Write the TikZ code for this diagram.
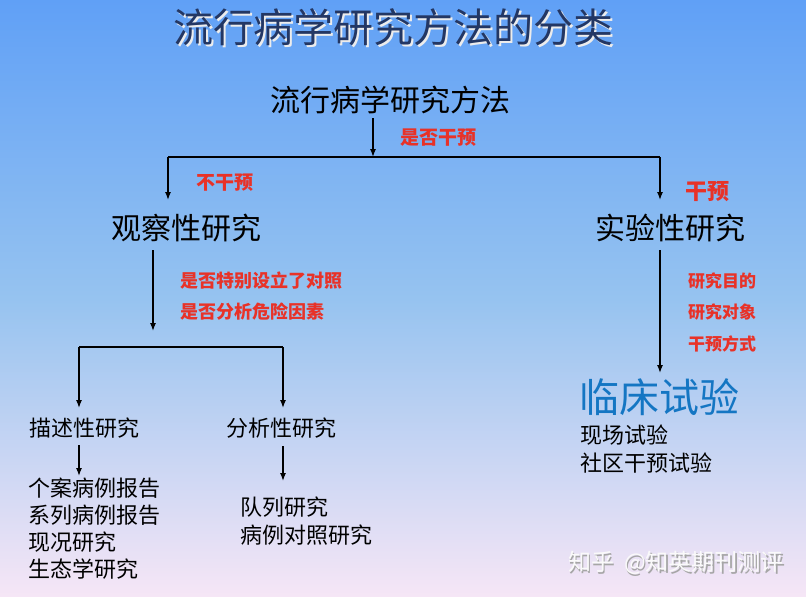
\documentclass[tikz,border=0pt]{standalone}
\usepackage{fontspec}
\newfontfamily\cjk{Noto Sans CJK SC}
\usetikzlibrary{arrows.meta}
\definecolor{bgtop}{RGB}{96,160,246}
\definecolor{bgmid}{RGB}{150,195,240}
\definecolor{bgbot}{RGB}{246,230,246}
\definecolor{qred}{RGB}{232,50,40}
\definecolor{navy}{RGB}{35,55,100}
\definecolor{clinblue}{RGB}{20,118,195}
\begin{document}
\begin{tikzpicture}[x=1pt,y=-1pt,
  txt/.style={inner sep=0pt,font=\cjk\fontsize{#1}{#1}\selectfont},
  lft/.style={txt=#1,anchor=west},
  qtxt/.style={inner sep=0pt,font=\cjk\bfseries\fontsize{#1}{#1}\selectfont,text=qred},
  qlft/.style={qtxt=#1,anchor=west},
  arr/.style={draw=black,line width=1.3pt,-{Latex[length=8pt,width=6pt]}},
  barline/.style={draw=black,line width=1.8pt}]
\useasboundingbox (0,0) rectangle (806,597);
\shade[top color=bgtop,bottom color=bgbot,middle color=bgmid] (0,0) rectangle (806,597);
% title with shadow
\node[txt=40,text=white!85!gray] (titleshadow) at (395.5,29.5) {流行病学研究方法的分类};
\node[txt=40,text=navy] (title) at (393,27) {流行病学研究方法的分类};
% main nodes
\node[txt=30] (root) at (390,100) {流行病学研究方法};
\node[qtxt=19] (q1) at (438,138) {是否干预};
\node[qtxt=19] (l1) at (225,183) {不干预};
\node[qtxt=22] (l2) at (707,192) {干预};
\node[txt=30] (obs) at (186,228) {观察性研究};
\node[txt=30] (exp) at (670,228) {实验性研究};
\node[qlft=18] (c1) at (180,281) {是否特别设立了对照};
\node[qlft=18] (c2) at (180,312) {是否分析危险因素};
\node[txt=22] (desc) at (84,428) {描述性研究};
\node[txt=22] (ana) at (281,428) {分析性研究};
\node[lft=22] (d1) at (28,488) {个案病例报告};
\node[lft=22] (d2) at (28,515) {系列病例报告};
\node[lft=22] (d3) at (28,542) {现况研究};
\node[lft=22] (d4) at (28,569) {生态学研究};
\node[lft=22] (a1) at (240,507) {队列研究};
\node[lft=22] (a2) at (240,535) {病例对照研究};
\node[qlft=17] (r1) at (688,281) {研究目的};
\node[qlft=17] (r2) at (688,312) {研究对象};
\node[qlft=17] (r3) at (688,344) {干预方式};
\node[lft=40,text=clinblue] (clin) at (579,397) {临床试验};
\node[lft=22] (e1) at (580,435) {现场试验};
\node[lft=22] (e2) at (580,463) {社区干预试验};
% watermark
\node[txt=23,text=gray!70] (wmshadow) at (677.5,564.5) {知乎\hspace{10pt}@知英期刊测评};
\node[txt=23,text=white!96!gray] (wm) at (676,563) {知乎\hspace{10pt}@知英期刊测评};
% coordinates
\coordinate (j0) at (373,157);
\coordinate (bL) at (168,157);
\coordinate (bR) at (660,157);
\coordinate (bLend) at (168,200);
\coordinate (bRend) at (660,200);
\coordinate (oS) at (153,250);
\coordinate (oE) at (153,331);
\coordinate (b2L) at (79,347);
\coordinate (b2R) at (283,347);
\coordinate (b2Lend) at (79,408);
\coordinate (b2Rend) at (283,408);
\coordinate (dS) at (79,445);
\coordinate (dE) at (79,476);
\coordinate (aS) at (283,446);
\coordinate (aE) at (283,481);
\coordinate (xS) at (660,250);
\coordinate (xE) at (660,373);
% connectors
\draw[arr] (root.south -| j0) ++(0,4) -- (j0);
\draw[barline] (bL) -- (bR);
\draw[arr] (bL) -- (bLend);
\draw[arr] (bR) -- (bRend);
\draw[arr] (oS) -- (oE);
\draw[barline] (b2L) -- (b2R);
\draw[arr] (b2L) -- (b2Lend);
\draw[arr] (b2R) -- (b2Rend);
\draw[arr] (dS) -- (dE);
\draw[arr] (aS) -- (aE);
\draw[arr] (xS) -- (xE);
\end{tikzpicture}
\end{document}
